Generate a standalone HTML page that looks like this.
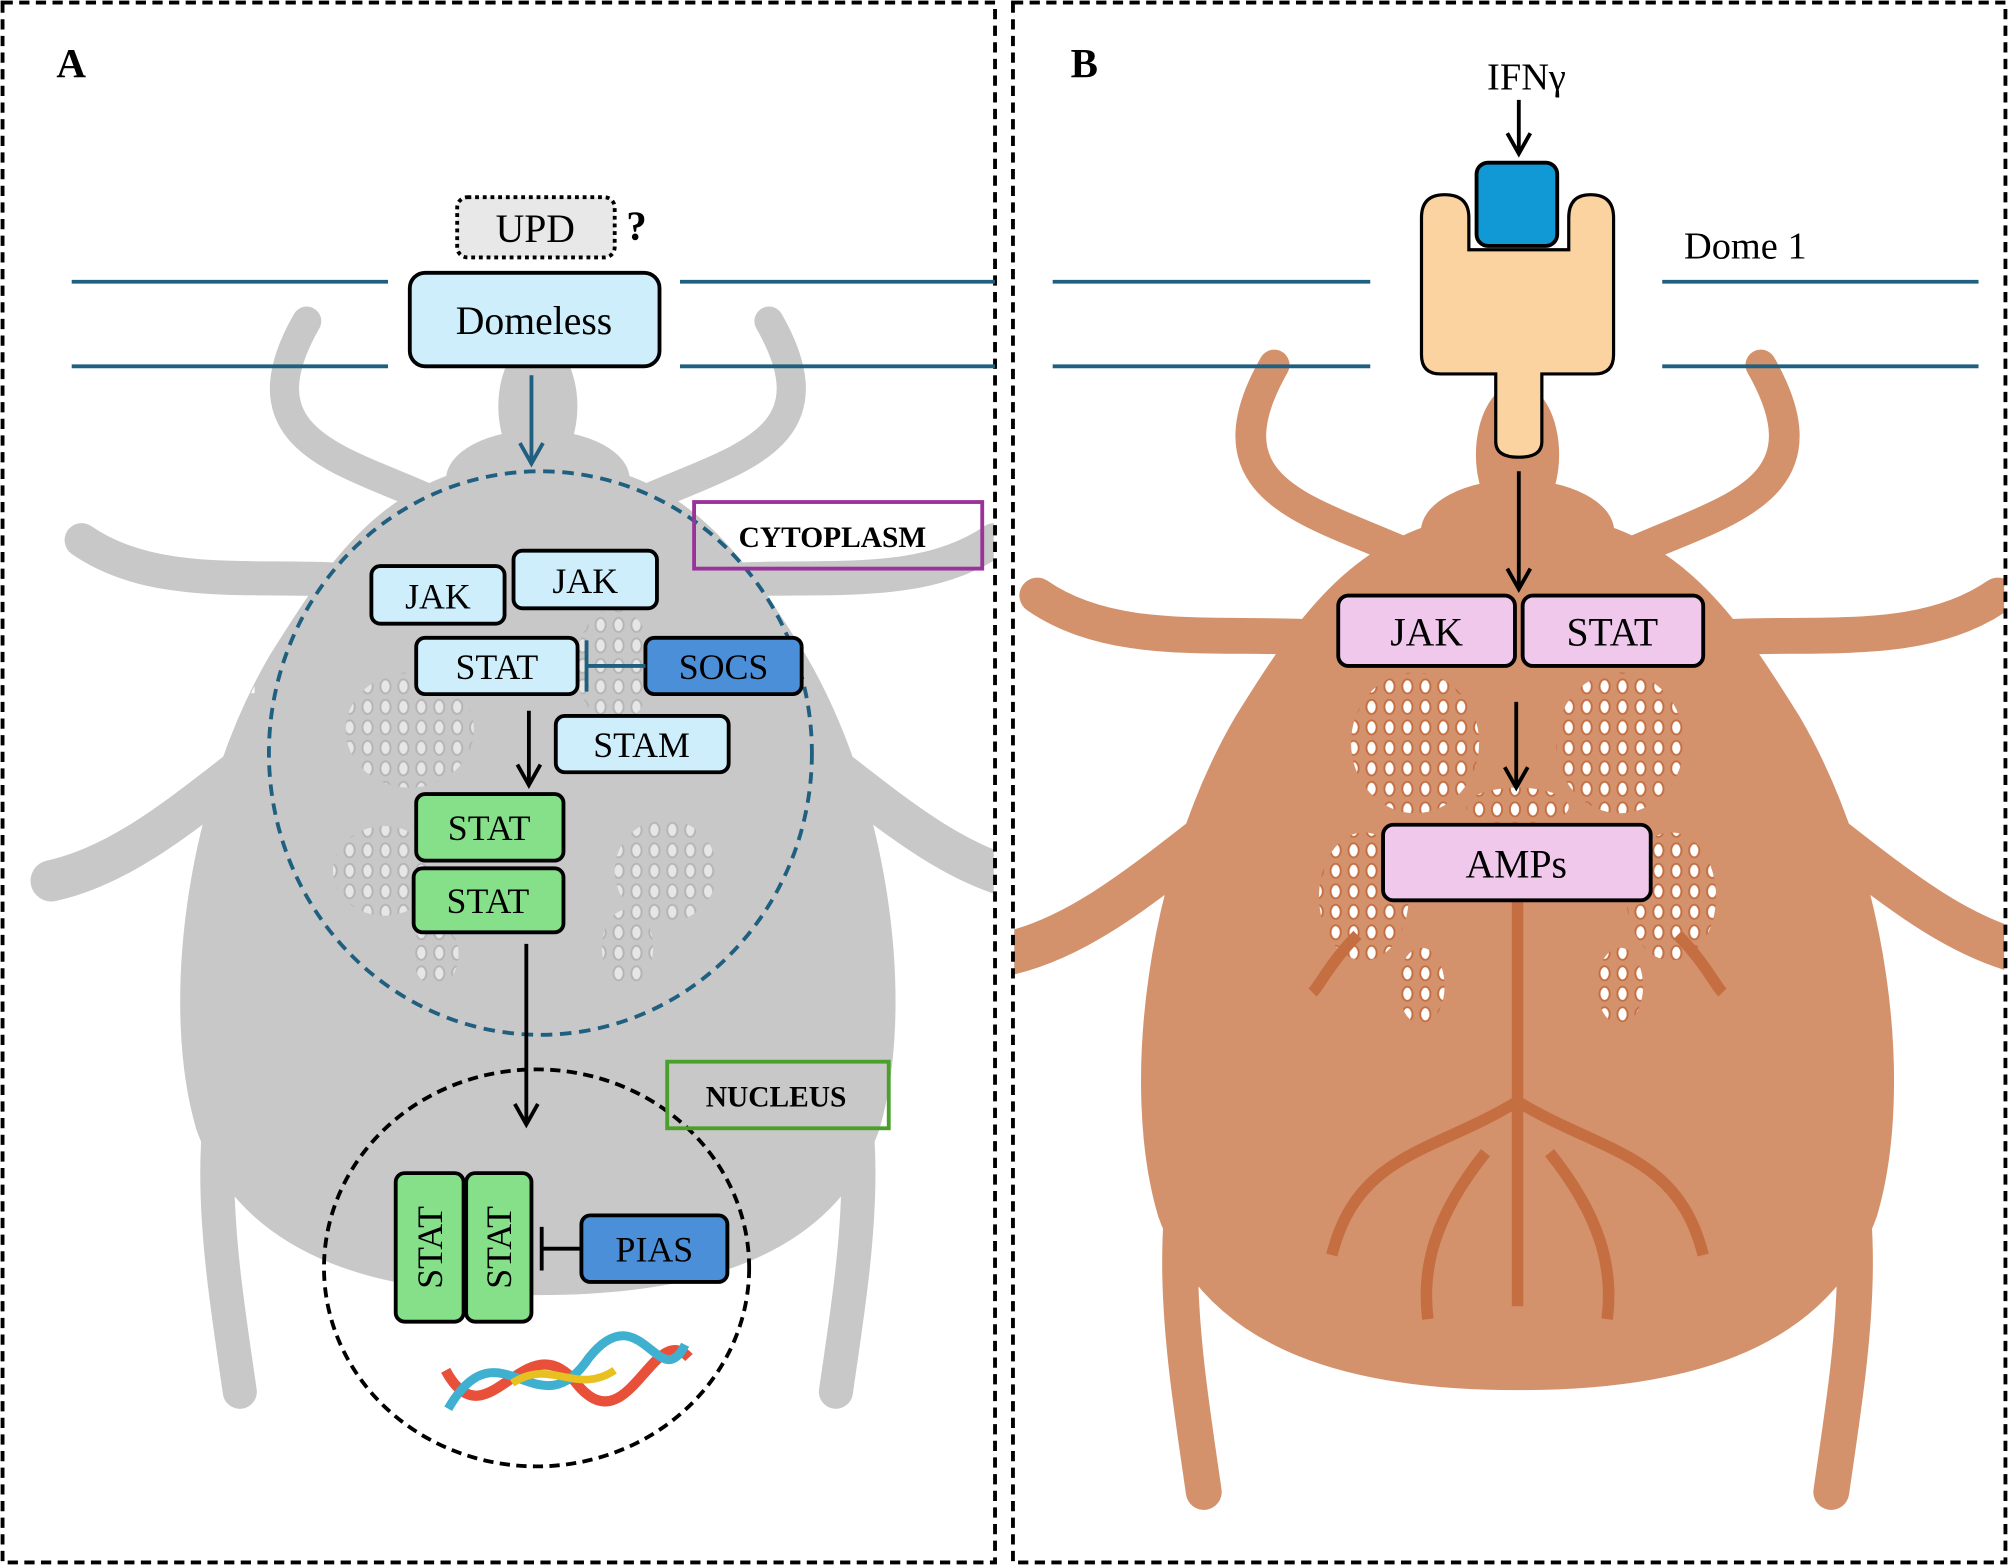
<!DOCTYPE html>
<html><head><meta charset="utf-8"><style>html,body{margin:0;padding:0;background:#fff}svg{display:block}text{font-family:"Liberation Serif",serif}</style></head><body>
<svg width="2008" height="1565" viewBox="0 0 1568 1222" preserveAspectRatio="none" xmlns="http://www.w3.org/2000/svg">
<defs>
<g id="tick">
<g fill="none" stroke-linecap="round">
<path d="M-70 440 C-150 400 -250 390 -190 285" stroke-width="24"/>
<path d="M70 440 C150 400 250 390 190 285" stroke-width="24"/>
<path d="M-130 500 C-220 490 -310 510 -375 465" stroke-width="28"/>
<path d="M130 500 C220 490 310 510 375 465" stroke-width="28"/>
<path d="M-200 620 C-270 670 -330 730 -400 745" stroke-width="34"/>
<path d="M200 620 C270 670 330 730 400 745" stroke-width="34"/>
<path d="M-240 850 C-280 950 -260 1060 -245 1165" stroke-width="28"/>
<path d="M240 850 C280 950 260 1060 245 1165" stroke-width="28"/>
</g>
<ellipse cx="0" cy="355" rx="32" ry="55"/>
<ellipse cx="0" cy="415" rx="75" ry="40"/>
<path d="M0 400 C-120 400 -170 480 -220 560 C-290 680 -310 850 -280 950 C-240 1060 -120 1085 0 1085 C120 1085 240 1060 280 950 C310 850 290 680 220 560 C170 480 120 400 0 400 Z"/>
</g>
<pattern id="dotsO" width="14" height="16" patternUnits="userSpaceOnUse"><ellipse cx="7" cy="8" rx="4" ry="5.5" fill="#fff" stroke="#c56e42" stroke-width="1.5"/></pattern>
<pattern id="dotsG" width="14" height="16" patternUnits="userSpaceOnUse"><ellipse cx="7" cy="8" rx="4" ry="5.5" fill="#eee" stroke="#b0b0b0" stroke-width="1.5"/></pattern>
<clipPath id="ca"><rect x="3" y="3" width="773" height="1216"/></clipPath>
<clipPath id="cb"><rect x="792" y="3" width="773" height="1216"/></clipPath>
<marker id="at" markerWidth="22" markerHeight="22" refX="18" refY="11" orient="auto" markerUnits="userSpaceOnUse"><path d="M2 2 L18 11 L2 20" fill="none" stroke="#1f5f7f" stroke-width="3"/></marker>
<marker id="ak" markerWidth="22" markerHeight="22" refX="18" refY="11" orient="auto" markerUnits="userSpaceOnUse"><path d="M2 2 L18 11 L2 20" fill="none" stroke="#000" stroke-width="3"/></marker>
</defs>
<!-- Panel A -->
<g clip-path="url(#ca)"><g fill="#c8c8c8" stroke="#c8c8c8" transform="translate(420,-20) scale(0.95)"><use href="#tick"/></g>
<g opacity="0.8">
<ellipse cx="320" cy="570" rx="50" ry="45" fill="url(#dotsG)"/>
<ellipse cx="480" cy="520" rx="30" ry="45" fill="url(#dotsG)"/>
<ellipse cx="300" cy="680" rx="40" ry="35" fill="url(#dotsG)"/>
<ellipse cx="520" cy="680" rx="40" ry="40" fill="url(#dotsG)"/>
<ellipse cx="490" cy="740" rx="20" ry="30" fill="url(#dotsG)"/>
<ellipse cx="340" cy="745" rx="18" ry="25" fill="url(#dotsG)"/>
</g>
</g>
<rect x="2" y="2" width="775" height="1218" fill="none" stroke="#000" stroke-width="3" stroke-dasharray="8,5"/>
<text x="44" y="60" font-size="32" font-weight="bold">A</text>
<g stroke="#1f5f7f" stroke-width="3"><line x1="56" y1="220" x2="303" y2="220"/><line x1="531" y1="220" x2="777" y2="220"/><line x1="56" y1="286" x2="303" y2="286"/><line x1="531" y1="286" x2="777" y2="286"/></g>
<rect x="357" y="154" width="123" height="47" rx="8" fill="#e8e8e8" stroke="#000" stroke-width="3" stroke-dasharray="3,3"/>
<text x="418" y="189" font-size="31" text-anchor="middle">UPD</text>
<text x="497" y="187" font-size="32" font-weight="bold" text-anchor="middle">?</text>
<rect x="320" y="213" width="195" height="73" rx="12" fill="#cdeefa" stroke="#000" stroke-width="3"/>
<text x="417" y="261" font-size="31" text-anchor="middle">Domeless</text>
<line x1="415" y1="293" x2="415" y2="362" stroke="#1f5f7f" stroke-width="3" marker-end="url(#at)"/>
<ellipse cx="422" cy="588" rx="212" ry="220" fill="none" stroke="#1f5f7f" stroke-width="3" stroke-dasharray="9,6"/>
<rect x="542" y="392" width="225" height="52" fill="none" stroke="#993399" stroke-width="3"/>
<text x="650" y="427" font-size="23" font-weight="bold" text-anchor="middle">CYTOPLASM</text>
<g stroke="#000" stroke-width="3" font-size="28">
<rect x="290" y="442" width="104" height="45" rx="7" fill="#cdeefa"/>
<rect x="401" y="430" width="112" height="45" rx="7" fill="#cdeefa"/>
<rect x="325" y="498" width="126" height="44" rx="7" fill="#cdeefa"/>
<rect x="504" y="498" width="122" height="44" rx="7" fill="#4a8fd8"/>
<rect x="434" y="559" width="135" height="44" rx="7" fill="#cdeefa"/>
<rect x="325" y="620" width="115" height="52" rx="7" fill="#86e08a"/>
<rect x="323" y="678" width="117" height="50" rx="7" fill="#86e08a"/>
<rect x="309" y="916" width="53" height="116" rx="7" fill="#86e08a"/>
<rect x="364" y="916" width="51" height="116" rx="7" fill="#86e08a"/>
<rect x="454" y="949" width="114" height="52" rx="7" fill="#4a8fd8"/>
</g>
<line x1="504" y1="520" x2="458" y2="520" stroke="#1f5f7f" stroke-width="3"/><line x1="458" y1="500" x2="458" y2="540" stroke="#1f5f7f" stroke-width="3"/>
<g font-size="28" text-anchor="middle">
<text x="342" y="475">JAK</text><text x="457" y="463">JAK</text><text x="388" y="530">STAT</text><text x="565" y="530">SOCS</text><text x="501" y="591">STAM</text>
<text x="382" y="656">STAT</text><text x="381" y="713">STAT</text><text x="511" y="985">PIAS</text>
<text transform="translate(345,974) rotate(-90)">STAT</text><text transform="translate(399,974) rotate(-90)">STAT</text>
</g>
<line x1="413" y1="555" x2="413" y2="613" stroke="#000" stroke-width="3" marker-end="url(#ak)"/>
<line x1="411" y1="737" x2="411" y2="878" stroke="#000" stroke-width="3" marker-end="url(#ak)"/>
<ellipse cx="419" cy="990" rx="166" ry="155" fill="none" stroke="#000" stroke-width="3" stroke-dasharray="8,5"/>
<rect x="521" y="829" width="173" height="52" fill="none" stroke="#4aa02a" stroke-width="3"/>
<text x="606" y="864" font-size="23" font-weight="bold" text-anchor="middle">NUCLEUS</text>
<line x1="454" y1="975" x2="423" y2="975" stroke="#000" stroke-width="3"/><line x1="423" y1="958" x2="423" y2="992" stroke="#000" stroke-width="3"/>
<path d="M348 1070 C380 1130 410 1030 450 1080 C490 1130 510 1030 538 1060" fill="none" stroke="#e8503a" stroke-width="8"/>
<path d="M350 1100 C390 1030 420 1120 460 1060 C500 1010 515 1090 535 1050" fill="none" stroke="#40b0d0" stroke-width="7"/>
<path d="M400 1080 C430 1060 450 1090 480 1070" fill="none" stroke="#e8c020" stroke-width="6"/>
<!-- Panel B -->
<g clip-path="url(#cb)"><g fill="#d4926c" stroke="#d4926c" transform="translate(1185,0)"><use href="#tick"/></g>
<g>
<ellipse cx="1105" cy="580" rx="50" ry="55" fill="url(#dotsO)"/>
<ellipse cx="1265" cy="580" rx="50" ry="55" fill="url(#dotsO)"/>
<ellipse cx="1065" cy="700" rx="35" ry="50" fill="url(#dotsO)"/>
<ellipse cx="1305" cy="700" rx="35" ry="50" fill="url(#dotsO)"/>
<ellipse cx="1110" cy="770" rx="18" ry="30" fill="url(#dotsO)"/>
<ellipse cx="1265" cy="770" rx="18" ry="30" fill="url(#dotsO)"/>
<ellipse cx="1185" cy="630" rx="40" ry="15" fill="url(#dotsO)"/>
</g>
<path d="M1185 700 L1185 1020 M1185 860 C1120 900 1060 900 1040 980 M1185 860 C1250 900 1310 900 1330 980 M1160 900 C1120 950 1110 990 1115 1030 M1210 900 C1250 950 1260 990 1255 1030 M1060 730 C1040 750 1030 770 1025 775 M1310 730 C1330 750 1340 770 1345 775" fill="none" stroke="#c56e42" stroke-width="9"/>
</g>
<rect x="791" y="2" width="775" height="1218" fill="none" stroke="#000" stroke-width="3" stroke-dasharray="8,5"/>
<text x="836" y="60" font-size="32" font-weight="bold">B</text>
<g stroke="#1f5f7f" stroke-width="3"><line x1="822" y1="220" x2="1070" y2="220"/><line x1="1298" y1="220" x2="1545" y2="220"/><line x1="822" y1="286" x2="1070" y2="286"/><line x1="1298" y1="286" x2="1545" y2="286"/></g>
<text x="1192" y="70" font-size="30" text-anchor="middle">IFNγ</text>
<line x1="1186" y1="78" x2="1186" y2="120" stroke="#000" stroke-width="3" marker-end="url(#ak)"/>
<path d="M1168 292 L1168 345 Q1168 357 1186 357 Q1204 357 1204 345 L1204 292 L1245 292 Q1260 292 1260 277 L1260 170 Q1260 152 1242 152 Q1225 152 1225 170 L1225 195 L1147 195 L1147 170 Q1147 152 1128 152 Q1110 152 1110 170 L1110 277 Q1110 292 1125 292 Z" fill="#fad3a0" stroke="#000" stroke-width="2.5"/>
<rect x="1153" y="127" width="63" height="65" rx="9" fill="#1199d5" stroke="#000" stroke-width="3"/>
<text x="1315" y="202" font-size="30">Dome 1</text>
<line x1="1186" y1="368" x2="1186" y2="460" stroke="#000" stroke-width="3" marker-end="url(#ak)"/>
<g stroke="#000" stroke-width="3" fill="#f0c8ec"><rect x="1045" y="465" width="138" height="55" rx="8"/><rect x="1189" y="465" width="141" height="55" rx="8"/><rect x="1080" y="644" width="209" height="59" rx="8"/></g>
<g font-size="31" text-anchor="middle"><text x="1114" y="504">JAK</text><text x="1259" y="504">STAT</text><text x="1184" y="685">AMPs</text></g>
<line x1="1184" y1="548" x2="1184" y2="615" stroke="#000" stroke-width="3" marker-end="url(#ak)"/>
</svg>
</body></html>
